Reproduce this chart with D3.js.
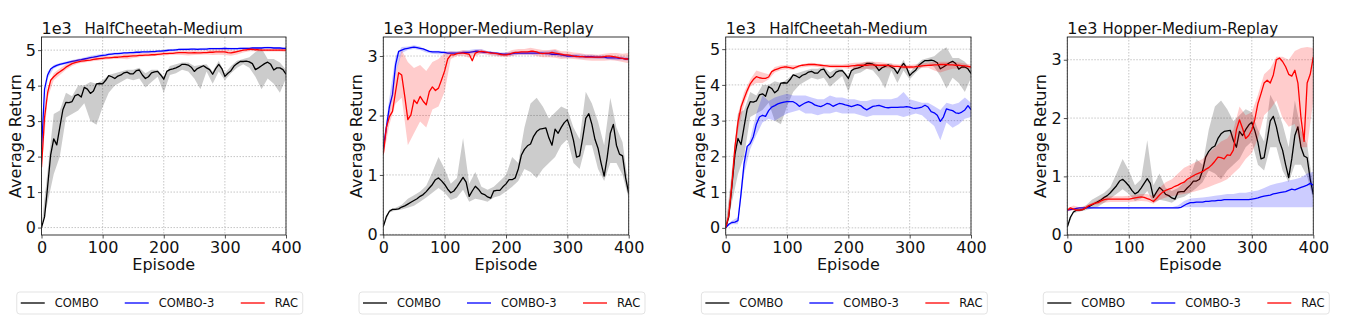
<!DOCTYPE html>
<html>
<head>
<meta charset="utf-8">
<script src="https://cdn.jsdelivr.net/npm/d3@7"></script>
<style>
  body { margin: 0; background: #fff; }
  svg { display: block; font-family: "DejaVu Sans", sans-serif; }
</style>
</head>
<body>
<div id="chart"></div>
<script>
// x positions of the sampled points (episodes)
const episodes = d3.range(0, 401, 5);
const bandEpisodes = d3.range(0, 401, 10);
const episodeTicks = [0, 100, 200, 300, 400];
const cheetahTicks = [0, 1, 2, 3, 4, 5];
const hopperTicks = [0, 1, 2, 3];
const seriesNames = ["COMBO", "COMBO-3", "RAC"];
const titles = ["HalfCheetah-Medium", "Hopper-Medium-Replay", "HalfCheetah-Medium", "Hopper-Medium-Replay"];

// COMBO, HalfCheetah (same run in panels 1 and 3), values in 1e3
const cheetahCombo = [0.0,0.3,1.15,2.05,2.5,2.33,2.83,3.32,3.53,3.52,
  3.55,3.72,3.75,3.68,3.95,3.9,3.78,3.85,4.05,4.06,
  4.05,4.15,4.28,4.25,4.2,4.27,4.3,4.36,4.38,4.33,
  4.33,4.42,4.44,4.3,4.2,4.25,4.36,4.39,4.4,4.3,
  4.18,4.4,4.45,4.47,4.5,4.54,4.6,4.6,4.58,4.52,
  4.4,4.48,4.52,4.56,4.5,4.45,4.32,4.48,4.6,4.48,
  4.26,4.35,4.42,4.55,4.62,4.68,4.68,4.69,4.67,4.62,
  4.45,4.5,4.56,4.62,4.66,4.6,4.44,4.5,4.5,4.45,
  4.32];
const cheetahComboLo = [0,0.7,1.5,2.0,3.1,3.2,3.3,3.5,3.0,2.9,
  3.4,3.8,4.0,4.1,4.2,4.15,4.2,3.95,4.1,4.25,
  3.8,4.3,4.35,4.45,4.4,4.2,3.9,4.4,4.05,4.4,
  4.15,4.35,4.5,4.6,4.5,4.25,3.9,4.2,4.05,3.8,
  4.2];
const cheetahComboHi = [0.05,1.6,3.2,3.3,3.8,3.7,4.0,4.0,4.1,4.05,
  4.15,4.3,4.35,4.4,4.45,4.45,4.5,4.35,4.45,4.45,
  4.25,4.55,4.6,4.65,4.65,4.55,4.58,4.6,4.4,4.7,
  4.35,4.55,4.7,4.75,4.8,4.95,5.05,4.75,4.75,4.65,
  4.45];

// Panel 1: HalfCheetah-Medium
const hc1Combo3 = [2.2,3.9,4.3,4.47,4.53,4.57,4.6,4.62,4.64,4.66,
  4.68,4.7,4.72,4.73,4.75,4.77,4.79,4.8,4.82,4.84,
  4.85,4.86,4.88,4.89,4.9,4.9,4.91,4.92,4.92,4.93,
  4.93,4.94,4.94,4.95,4.95,4.95,4.96,4.96,4.97,4.97,
  4.98,4.99,5.0,5.0,5.01,5.02,5.02,5.02,5.02,5.03,
  5.03,5.02,5.03,5.03,5.03,5.04,5.04,5.04,5.04,5.04,
  5.05,5.04,5.04,5.04,5.04,5.05,5.05,5.05,5.05,5.06,
  5.06,5.06,5.06,5.07,5.07,5.07,5.06,5.06,5.06,5.05,
  5.05];
const hc1Combo3Lo = [2.0,4.2,4.48,4.56,4.6,4.64,4.68,4.71,4.76,4.79,
  4.81,4.85,4.87,4.88,4.89,4.9,4.91,4.92,4.93,4.94,
  4.95,4.97,4.98,4.99,5.0,5.0,5.0,5.01,5.01,5.01,
  5.02,5.01,5.01,5.02,5.02,5.03,5.03,5.04,5.03,5.02,
  5.02];
const hc1Combo3Hi = [2.4,4.4,4.58,4.64,4.68,4.72,4.76,4.79,4.84,4.87,
  4.89,4.92,4.93,4.94,4.95,4.96,4.97,4.98,4.99,5.0,
  5.01,5.03,5.04,5.05,5.06,5.06,5.06,5.07,5.07,5.07,
  5.08,5.07,5.07,5.08,5.08,5.09,5.09,5.1,5.09,5.08,
  5.08];
const hc1Rac = [1.7,3.1,3.8,4.15,4.25,4.33,4.39,4.45,4.52,4.57,
  4.62,4.65,4.67,4.69,4.7,4.71,4.72,4.74,4.75,4.76,
  4.77,4.78,4.78,4.79,4.8,4.8,4.81,4.82,4.82,4.83,
  4.84,4.84,4.85,4.85,4.86,4.86,4.87,4.87,4.88,4.89,
  4.9,4.9,4.91,4.91,4.92,4.93,4.93,4.93,4.92,4.92,
  4.93,4.92,4.92,4.93,4.93,4.94,4.94,4.95,4.95,4.95,
  4.95,4.93,4.92,4.94,4.96,4.98,5.0,5.01,5.02,5.02,
  5.01,5.01,5.0,5.0,5.0,5.0,5.0,5.0,5.0,5.0,
  5.0];
const hc1RacLo = [1.6,3.65,4.15,4.3,4.45,4.55,4.62,4.65,4.68,4.7,
  4.72,4.74,4.75,4.76,4.74,4.78,4.8,4.82,4.83,4.84,
  4.85,4.86,4.87,4.86,4.85,4.86,4.87,4.88,4.86,4.87,
  4.86,4.84,4.88,4.93,4.97,4.97,4.96,4.96,4.96,4.96,
  4.95];
const hc1RacHi = [1.8,3.95,4.35,4.48,4.6,4.7,4.74,4.76,4.79,4.81,
  4.83,4.84,4.85,4.87,4.9,4.9,4.91,4.92,4.93,4.94,
  4.95,4.96,4.97,4.99,4.99,4.99,4.98,5.0,5.02,5.02,
  5.03,5.0,4.99,5.03,5.06,5.05,5.04,5.04,5.04,5.04,
  5.04];

// COMBO, Hopper (same run in panels 2 and 4)
const hopperCombo = [0.13,0.3,0.39,0.42,0.42,0.43,0.46,0.48,0.51,0.54,
  0.57,0.6,0.64,0.67,0.72,0.78,0.84,0.92,0.95,0.9,
  0.84,0.76,0.7,0.73,0.8,0.88,0.96,0.88,0.64,0.73,
  0.81,0.76,0.69,0.67,0.63,0.61,0.73,0.74,0.74,0.8,
  0.85,0.92,0.92,0.95,1.1,1.33,1.43,1.49,1.52,1.65,
  1.73,1.77,1.78,1.79,1.62,1.5,1.77,1.7,1.8,1.88,
  1.93,1.78,1.58,1.3,1.32,1.62,1.95,2.03,1.85,1.6,
  1.45,1.2,0.98,1.3,1.7,1.85,1.5,1.35,1.32,0.95,
  0.69];
const hopperComboLo = [0.12,0.37,0.4,0.42,0.45,0.48,0.55,0.62,0.7,0.78,
  0.7,0.58,0.62,0.75,0.55,0.6,0.58,0.55,0.62,0.65,
  0.72,0.8,0.9,1.1,1.05,0.95,1.1,1.2,1.3,1.5,
  1.6,1.2,1.1,1.5,1.5,1.1,0.9,1.2,1.2,1.0,
  0.6];
const hopperComboHi = [0.16,0.42,0.45,0.5,0.6,0.66,0.72,0.82,1.05,1.3,
  1.1,0.85,0.95,1.62,0.85,1.05,0.8,0.75,0.8,0.9,
  1.0,1.3,1.2,1.8,2.2,2.3,2.15,1.95,2.05,2.15,
  2.1,1.8,1.6,2.4,2.2,1.9,1.5,2.3,1.8,1.55,
  0.8];

// Panel 2: Hopper-Medium-Replay
const hop1Combo3 = [1.45,1.8,2.15,2.35,2.85,3.08,3.1,3.12,3.13,3.14,
  3.15,3.14,3.13,3.12,3.1,3.08,3.07,3.07,3.07,3.06,
  3.06,3.05,3.05,3.05,3.05,3.05,3.06,3.06,3.06,3.07,
  3.08,3.08,3.07,3.06,3.06,3.06,3.05,3.05,3.04,3.03,
  3.03,3.03,3.04,3.05,3.05,3.05,3.05,3.05,3.05,3.05,
  3.05,3.05,3.05,3.04,3.04,3.03,3.03,3.03,3.02,3.01,
  3.0,3.0,3.0,3.0,2.99,2.99,2.99,2.99,2.99,2.98,
  2.98,2.98,2.98,2.97,2.97,2.97,2.97,2.96,2.96,2.95,
  2.95];
const hop1Combo3Lo = [1.35,2.0,2.7,3.05,3.1,3.12,3.1,3.06,3.04,3.03,
  3.03,3.02,3.02,3.03,3.04,3.05,3.04,3.03,3.02,3.0,
  3.0,3.01,3.02,3.02,3.02,3.02,3.02,3.01,3.0,2.98,
  2.97,2.97,2.96,2.96,2.96,2.95,2.95,2.94,2.93,2.93,
  2.92];
const hop1Combo3Hi = [1.55,2.3,3.0,3.15,3.16,3.18,3.16,3.1,3.09,3.09,
  3.08,3.08,3.08,3.09,3.1,3.12,3.12,3.08,3.07,3.06,
  3.06,3.07,3.08,3.08,3.08,3.08,3.08,3.09,3.1,3.05,
  3.03,3.03,3.03,3.02,3.02,3.01,3.01,3.0,2.99,2.99,
  2.98];
const hop1Rac = [1.35,1.8,1.98,2.07,2.4,2.72,2.68,2.32,1.93,2.01,
  2.26,2.2,2.32,2.24,2.18,2.4,2.48,2.42,2.46,2.6,
  2.75,2.95,3.02,3.02,3.04,3.05,3.05,3.04,3.03,2.92,
  3.05,3.07,3.08,3.07,3.06,3.05,3.05,3.04,3.03,3.02,
  3.02,3.03,3.05,3.06,3.06,3.07,3.07,3.07,3.08,3.08,
  3.07,3.05,3.04,3.05,3.05,3.06,3.05,3.04,3.03,3.02,
  3.02,3.01,3.0,2.99,2.99,2.99,2.98,2.98,2.98,2.98,
  2.98,2.98,2.99,3.0,3.0,2.99,2.98,2.97,2.96,2.95,
  2.95];
const hop1RacLo = [1.3,1.85,2.2,2.3,1.5,1.7,1.9,1.8,2.1,2.15,
  2.4,2.95,3.0,3.0,2.97,3.0,3.04,3.02,3.0,2.99,
  2.98,3.0,3.02,3.02,3.02,3.0,2.98,2.98,2.97,2.95,
  2.96,2.95,2.94,2.93,2.92,2.92,2.92,2.93,2.92,2.9,
  2.88];
const hop1RacHi = [1.4,2.1,2.7,3.1,2.9,2.8,2.85,2.75,2.9,2.95,
  3.05,3.08,3.07,3.1,3.08,3.1,3.11,3.08,3.06,3.05,
  3.06,3.1,3.12,3.12,3.14,3.12,3.1,3.1,3.12,3.08,
  3.08,3.06,3.05,3.03,3.03,3.02,3.04,3.05,3.05,3.04,
  3.05];

// Panel 3: HalfCheetah-Medium
const hc2Combo3 = [0.0,0.1,0.15,0.16,0.2,0.95,1.8,2.28,2.36,2.55,
  2.9,3.1,3.15,3.12,3.28,3.38,3.42,3.47,3.5,3.52,
  3.53,3.53,3.53,3.48,3.4,3.45,3.5,3.53,3.5,3.44,
  3.41,3.39,3.43,3.48,3.46,3.4,3.44,3.48,3.47,3.44,
  3.42,3.39,3.42,3.45,3.42,3.35,3.3,3.35,3.4,3.41,
  3.43,3.4,3.37,3.36,3.37,3.37,3.37,3.38,3.38,3.39,
  3.38,3.35,3.34,3.36,3.38,3.43,3.38,3.25,3.22,3.15,
  2.98,3.1,3.33,3.3,3.28,3.22,3.2,3.24,3.3,3.42,
  3.31];
const hc2Combo3Lo = [0.0,0.1,0.1,1.5,2.2,2.6,2.95,3.05,3.0,3.1,
  3.2,3.25,3.3,3.2,3.2,3.15,3.2,3.2,3.25,3.2,
  3.2,3.2,3.15,3.1,3.15,3.15,3.15,3.15,3.15,3.1,
  3.15,3.2,3.15,3.0,2.85,2.45,2.95,2.8,2.9,3.05,
  3.1];
const hc2Combo3Hi = [0.05,0.2,0.3,2.0,2.5,3.2,3.7,3.55,3.65,3.7,
  3.75,3.7,3.7,3.7,3.65,3.6,3.6,3.7,3.65,3.65,
  3.6,3.6,3.55,3.55,3.6,3.6,3.6,3.6,3.65,3.8,
  3.6,3.55,3.5,3.5,3.4,3.3,3.5,3.45,3.5,3.65,
  3.5];
const hc2Rac = [0.0,0.35,1.2,2.25,2.95,3.38,3.62,3.84,4.03,4.15,
  4.23,4.2,4.18,4.18,4.22,4.37,4.42,4.45,4.48,4.5,
  4.5,4.48,4.46,4.5,4.53,4.55,4.56,4.57,4.57,4.57,
  4.56,4.55,4.54,4.53,4.52,4.52,4.52,4.52,4.52,4.52,
  4.52,4.53,4.54,4.55,4.55,4.55,4.55,4.56,4.56,4.55,
  4.55,4.55,4.55,4.54,4.53,4.52,4.52,4.51,4.5,4.5,
  4.5,4.5,4.51,4.52,4.53,4.54,4.55,4.55,4.56,4.56,
  4.57,4.57,4.57,4.56,4.56,4.55,4.55,4.54,4.53,4.52,
  4.5];
const hc2RacLo = [0.0,1.0,2.7,3.45,3.95,4.05,4.05,4.15,4.35,4.42,
  4.44,4.42,4.48,4.5,4.52,4.5,4.48,4.48,4.46,4.47,
  4.45,4.45,4.45,4.45,4.45,4.46,4.47,4.46,4.45,4.45,
  4.44,4.45,4.47,4.48,4.4,4.35,4.4,4.45,4.46,4.46,
  4.45];
const hc2RacHi = [0.05,1.4,3.2,3.8,4.15,4.4,4.35,4.3,4.5,4.55,
  4.56,4.55,4.56,4.6,4.62,4.6,4.58,4.58,4.58,4.57,
  4.6,4.62,4.63,4.65,4.65,4.64,4.62,4.6,4.58,4.57,
  4.56,4.58,4.6,4.62,4.65,4.65,4.65,4.65,4.63,4.6,
  4.57];

// Panel 4: Hopper-Medium-Replay
const hop2Combo3 = [0.42,0.43,0.44,0.45,0.46,0.46,0.46,0.46,0.46,0.46,
  0.46,0.46,0.46,0.46,0.46,0.46,0.46,0.46,0.46,0.46,
  0.46,0.46,0.46,0.46,0.46,0.46,0.46,0.46,0.46,0.46,
  0.46,0.46,0.46,0.46,0.46,0.46,0.46,0.47,0.5,0.53,
  0.55,0.55,0.56,0.56,0.56,0.57,0.57,0.58,0.58,0.59,
  0.59,0.6,0.6,0.6,0.6,0.6,0.6,0.6,0.6,0.6,
  0.61,0.62,0.63,0.65,0.66,0.67,0.68,0.7,0.71,0.72,
  0.73,0.74,0.76,0.78,0.77,0.79,0.81,0.83,0.85,0.88,
  0.85];
const hop2Combo3Lo = [0.41,0.44,0.45,0.45,0.45,0.45,0.45,0.45,0.45,0.45,
  0.45,0.45,0.45,0.45,0.45,0.45,0.45,0.45,0.45,0.47,
  0.47,0.47,0.47,0.47,0.47,0.47,0.47,0.47,0.47,0.47,
  0.47,0.47,0.47,0.47,0.47,0.47,0.47,0.47,0.47,0.47,
  0.47];
const hop2Combo3Hi = [0.44,0.46,0.47,0.47,0.47,0.47,0.47,0.47,0.47,0.47,
  0.47,0.47,0.47,0.47,0.47,0.47,0.47,0.47,0.5,0.58,
  0.62,0.63,0.64,0.65,0.67,0.68,0.7,0.7,0.72,0.72,
  0.74,0.76,0.8,0.85,0.88,0.9,0.93,0.95,0.98,1.05,
  1.08];
const hop2Rac = [0.42,0.46,0.44,0.42,0.42,0.43,0.46,0.5,0.52,0.54,
  0.55,0.58,0.6,0.61,0.61,0.61,0.61,0.61,0.61,0.61,
  0.61,0.62,0.63,0.64,0.65,0.64,0.62,0.6,0.57,0.62,
  0.68,0.73,0.76,0.78,0.8,0.83,0.85,0.88,0.9,0.95,
  0.98,1.01,1.04,1.06,1.08,1.12,1.15,1.2,1.26,1.33,
  1.32,1.3,1.37,1.36,1.45,1.8,1.97,1.82,1.65,1.7,
  1.8,1.98,2.25,2.42,2.6,2.65,2.6,2.74,3.0,3.03,
  2.97,2.88,2.75,2.72,2.82,2.6,2.0,1.6,2.6,2.75,
  3.05];
const hop2RacLo = [0.4,0.42,0.4,0.45,0.5,0.52,0.55,0.56,0.56,0.56,
  0.56,0.57,0.58,0.57,0.53,0.6,0.64,0.66,0.68,0.7,
  0.72,0.75,0.78,0.82,0.86,0.9,0.95,1.05,1.15,1.3,
  1.4,1.65,2.05,2.15,2.3,2.0,1.85,1.9,1.5,1.5,
  2.3];
const hop2RacHi = [0.45,0.5,0.47,0.5,0.55,0.6,0.65,0.66,0.66,0.66,
  0.67,0.68,0.7,0.7,0.66,0.8,0.9,0.95,1.05,1.15,
  1.2,1.25,1.3,1.4,1.5,1.6,1.65,1.8,2.2,2.05,
  2.1,2.4,2.75,2.85,3.05,3.05,3.0,3.15,3.2,3.22,
  3.2];

const colors = ["#000000", "#0000ff", "#ff0000"];
const width = 1349, height = 322;
const plotTop = 37, plotBottom = 235;

const panels = [
  {left: 41.5, right: 286, yDomain: [-0.21, 5.37], yTicks: cheetahTicks, title: titles[0],
   series: [[cheetahCombo, cheetahComboLo, cheetahComboHi], [hc1Combo3, hc1Combo3Lo, hc1Combo3Hi], [hc1Rac, hc1RacLo, hc1RacHi]]},
  {left: 383.3, right: 628.7, yDomain: [-0.01, 3.32], yTicks: hopperTicks, title: titles[1],
   series: [[hopperCombo, hopperComboLo, hopperComboHi], [hop1Combo3, hop1Combo3Lo, hop1Combo3Hi], [hop1Rac, hop1RacLo, hop1RacHi]]},
  {left: 725.7, right: 971, yDomain: [-0.2, 5.34], yTicks: cheetahTicks, title: titles[2],
   series: [[cheetahCombo, cheetahComboLo, cheetahComboHi], [hc2Combo3, hc2Combo3Lo, hc2Combo3Hi], [hc2Rac, hc2RacLo, hc2RacHi]]},
  {left: 1067.3, right: 1313.3, yDomain: [-0.005, 3.39], yTicks: hopperTicks, title: titles[3],
   series: [[hopperCombo, hopperComboLo, hopperComboHi], [hop2Combo3, hop2Combo3Lo, hop2Combo3Hi], [hop2Rac, hop2RacLo, hop2RacHi]]}
];

const svg = d3.select("#chart")
  .append("svg")
  .attr("width", width)
  .attr("height", height);

svg.append("rect").attr("width", width).attr("height", height).attr("fill", "#fff");

panels.forEach((p, pi) => {
  const g = svg.append("g");
  const x = d3.scaleLinear().domain([0, 400]).range([p.left, p.right]);
  const y = d3.scaleLinear().domain(p.yDomain).range([plotBottom, plotTop]);

  // grid
  g.append("g").selectAll("line")
    .data(episodeTicks)
    .enter().append("line")
    .attr("x1", d => x(d)).attr("x2", d => x(d))
    .attr("y1", plotTop).attr("y2", plotBottom)
    .attr("stroke", "#b8b8b8").attr("stroke-width", 0.8)
    .attr("stroke-dasharray", "1.5,1.5");
  g.append("g").selectAll("line")
    .data(p.yTicks)
    .enter().append("line")
    .attr("x1", p.left).attr("x2", p.right)
    .attr("y1", d => y(d)).attr("y2", d => y(d))
    .attr("stroke", "#b8b8b8").attr("stroke-width", 0.8)
    .attr("stroke-dasharray", "1.5,1.5");

  const clipId = "clip" + pi;
  svg.append("clipPath").attr("id", clipId)
    .append("rect")
    .attr("x", p.left).attr("y", plotTop)
    .attr("width", p.right - p.left).attr("height", plotBottom - plotTop);

  const plot = g.append("g").attr("clip-path", `url(#${clipId})`);

  p.series.forEach(([mean, lo, hi], si) => {
    const area = d3.area()
      .x((d, i) => x(bandEpisodes[i]))
      .y0((d, i) => y(lo[i]))
      .y1((d, i) => y(hi[i]));
    plot.append("path")
      .datum(lo)
      .attr("d", area)
      .attr("fill", colors[si])
      .attr("fill-opacity", 0.2);

    const line = d3.line()
      .x((d, i) => x(episodes[i]))
      .y(d => y(d));
    plot.append("path")
      .datum(mean)
      .attr("d", line)
      .attr("fill", "none")
      .attr("stroke", colors[si])
      .attr("stroke-width", 1.3)
      .attr("stroke-linejoin", "round");
  });

  // axes
  const xAxis = g.append("g")
    .attr("transform", `translate(0, ${plotBottom})`)
    .call(d3.axisBottom(x).tickValues(episodeTicks).tickSize(3.5).tickPadding(3).tickFormat(d3.format("d")));
  const yAxis = g.append("g")
    .attr("transform", `translate(${p.left}, 0)`)
    .call(d3.axisLeft(y).tickValues(p.yTicks).tickSize(3.5).tickPadding(2).tickFormat(d3.format("d")));
  [xAxis, yAxis].forEach(a => {
    a.select(".domain").remove();
    a.selectAll(".tick line").attr("stroke", "#222").attr("stroke-width", 0.8);
    a.selectAll(".tick text")
      .attr("font-family", "DejaVu Sans, sans-serif")
      .attr("font-size", 16)
      .attr("fill", "#111");
  });

  // frame
  g.append("rect")
    .attr("x", p.left).attr("y", plotTop)
    .attr("width", p.right - p.left).attr("height", plotBottom - plotTop)
    .attr("fill", "none")
    .attr("stroke", "#222")
    .attr("stroke-width", 0.9);

  // offset text + title
  g.append("text")
    .attr("x", p.left).attr("y", 34)
    .attr("font-size", 16).attr("fill", "#111")
    .text("1e3");
  g.append("text")
    .attr("x", (p.left + p.right) / 2).attr("y", 33.5)
    .attr("text-anchor", "middle")
    .attr("font-size", 15).attr("fill", "#111")
    .text(p.title);

  // axis labels
  g.append("text")
    .attr("transform", `translate(${p.left - 21}, ${(plotTop + plotBottom) / 2}) rotate(-90)`)
    .attr("text-anchor", "middle")
    .attr("font-size", 16).attr("fill", "#111")
    .text("Average Return");
  g.append("text")
    .attr("x", (p.left + p.right) / 2).attr("y", 270)
    .attr("text-anchor", "middle")
    .attr("font-size", 16).attr("fill", "#111")
    .text("Episode");

  // legend
  const lx = (p.left + p.right) / 2 - 147;
  const legend = g.append("g").attr("transform", `translate(${lx}, 292)`);
  legend.append("rect")
    .attr("width", 286).attr("height", 22).attr("rx", 3)
    .attr("fill", "#fff").attr("stroke", "#dcdcdc").attr("stroke-width", 0.8);
  const itemX = [4, 108, 224];
  seriesNames.forEach((name, si) => {
    legend.append("line")
      .attr("x1", itemX[si]).attr("x2", itemX[si] + 24)
      .attr("y1", 11).attr("y2", 11)
      .attr("stroke", colors[si]).attr("stroke-width", 1.3);
    legend.append("text")
      .attr("x", itemX[si] + 34).attr("y", 11)
      .attr("dy", "0.36em")
      .attr("font-size", 11.5).attr("fill", "#111")
      .text(name);
  });
});
</script>
</body>
</html>
